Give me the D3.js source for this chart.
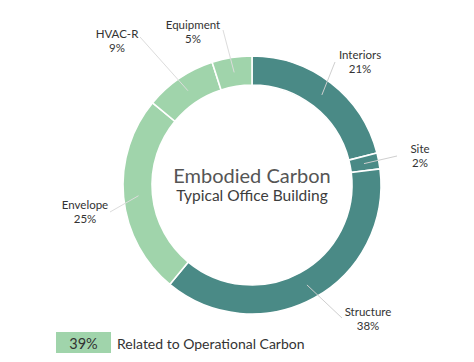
<!DOCTYPE html>
<html>
<head>
<meta charset="utf-8">
<script src="https://cdn.jsdelivr.net/npm/d3@7"></script>
<style>
  body { margin: 0; background: #fff; }
  text { font-family: Lato, "Open Sans", sans-serif; }
</style>
</head>
<body>
<div class="chart"></div>
<script>
// data
var categories = ["Interiors", "Site", "Structure", "Envelope", "HVAC-R", "Equipment"];
var shares = [21, 2, 38, 25, 9, 5];
var operational = [false, false, false, true, true, true];
var legendValue = "39%";
var legendText = "Related to Operational Carbon";
var titleLines = ["Embodied Carbon", "Typical Office Building"];

var svgWidth = 474;
var svgHeight = 362;

var cx = 252, cy = 185;
var outerR = 129, innerR = 100;

var darkColor = "#4a8a86";
var lightColor = "#a0d4ab";

// where each label sits (x centre, first baseline) and where its leader ends
var labelPos = {
  "Interiors": { x: 360, y: 59, lx: 335, ly: 62 },
  "Site": { x: 420, y: 153, lx: 397, ly: 156 },
  "Structure": { x: 368, y: 316, lx: 342, ly: 318 },
  "Envelope": { x: 85, y: 209, lx: 110, ly: 212 },
  "HVAC-R": { x: 117, y: 38, lx: 140, ly: 37 },
  "Equipment": { x: 193, y: 29, lx: 223, ly: 30 }
};

var data = categories.map(function(c, i) {
  return { name: c, value: shares[i], op: operational[i] };
});

var svg = d3.select(".chart")
  .append("svg")
  .attr("width", svgWidth)
  .attr("height", svgHeight);

var pie = d3.pie().sort(null).value(d => d.value);
var arc = d3.arc().innerRadius(innerR).outerRadius(outerR);
var mid = d3.arc().innerRadius(114).outerRadius(114);

var g = svg.append("g").attr("transform", "translate(" + cx + "," + cy + ")");

var arcs = pie(data);

g.selectAll("path")
  .data(arcs)
  .enter()
  .append("path")
  .attr("d", arc)
  .attr("fill", d => d.data.op ? lightColor : darkColor)
  .attr("stroke", "#fff")
  .attr("stroke-width", 1.6);

// leader lines
g.selectAll("line.leader")
  .data(arcs)
  .enter()
  .append("line")
  .attr("class", "leader")
  .attr("x1", d => mid.centroid(d)[0])
  .attr("y1", d => mid.centroid(d)[1])
  .attr("x2", d => labelPos[d.data.name].lx - cx)
  .attr("y2", d => labelPos[d.data.name].ly - cy)
  .attr("stroke", d => d.data.op ? "#dcdcdc" : "#cfcfcf")
  .attr("stroke-width", 1);

var labels = svg.selectAll("text.lab")
  .data(arcs)
  .enter()
  .append("text")
  .attr("class", "lab")
  .attr("text-anchor", "middle")
  .attr("font-size", "11.5px")
  .attr("fill", "#333");

labels.append("tspan")
  .attr("x", d => labelPos[d.data.name].x)
  .attr("y", d => labelPos[d.data.name].y)
  .text(d => d.data.name);

labels.append("tspan")
  .attr("x", d => labelPos[d.data.name].x)
  .attr("y", d => labelPos[d.data.name].y + 14)
  .text(d => d.data.value + "%");

// centre title
svg.append("text")
  .attr("x", cx)
  .attr("y", 183)
  .attr("text-anchor", "middle")
  .attr("font-size", "20px")
  .attr("fill", "#555")
  .text(titleLines[0]);

svg.append("text")
  .attr("x", cx)
  .attr("y", 201)
  .attr("text-anchor", "middle")
  .attr("font-size", "15.5px")
  .attr("fill", "#3d3d3d")
  .text(titleLines[1]);

// legend
svg.append("rect")
  .attr("x", 56)
  .attr("y", 332)
  .attr("width", 55)
  .attr("height", 21)
  .attr("fill", lightColor);

svg.append("text")
  .attr("x", 83.5)
  .attr("y", 349)
  .attr("text-anchor", "middle")
  .attr("font-size", "14.5px")
  .attr("fill", "#333")
  .text(legendValue);

svg.append("text")
  .attr("x", 117)
  .attr("y", 349)
  .attr("font-size", "14px")
  .attr("fill", "#333")
  .text(legendText);
</script>
</body>
</html>
